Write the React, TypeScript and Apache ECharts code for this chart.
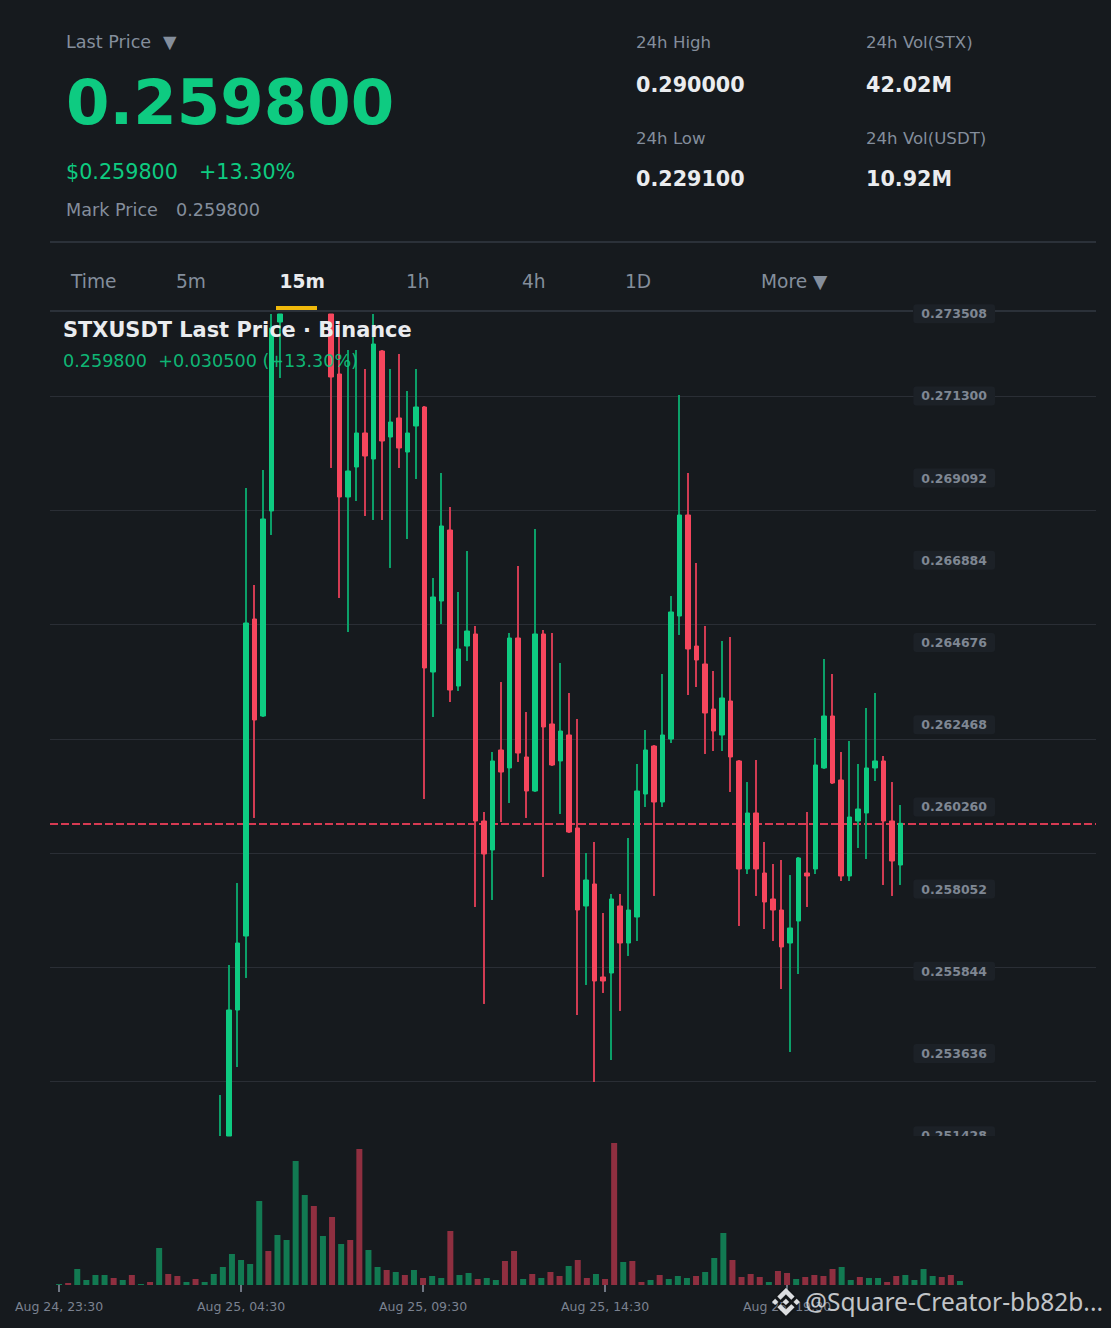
import React, { useEffect, useRef } from "react";
import * as echarts from "echarts";

const opens = [0.2300,0.2305,0.2301,0.2318,0.2324,0.2332,0.2339,0.2333,0.2340,0.2331,0.2335,0.2332,0.2358,0.2349,0.2342,0.2346,0.2341,0.2347,0.2368,0.2412,
0.2490,0.254786,0.256774,0.265289,0.262683,0.26819,0.273266,0.2752,0.2795,0.2770,0.2835,0.2790,0.2815,0.271869,0.268566,0.269371,0.270285,0.269586,0.272487,0.270177,
0.270688,0.269774,0.270473,0.270983,0.263865,0.265772,0.267679,0.263489,0.264563,0.264886,0.259863,0.259084,0.26177,0.261287,0.264778,0.261582,0.260669,0.264886,0.262468,0.261475,
0.262173,0.259675,0.25758,0.258171,0.255673,0.25578,0.25758,0.256586,0.257284,0.260588,0.261877,0.260373,0.262065,0.265369,0.268082,0.264563,0.26408,0.262871,0.262173,0.263086,
0.261475,0.258574,0.260078,0.258466,0.257768,0.257472,0.256586,0.257177,0.258466,0.258574,0.261287,0.262683,0.260964,0.258386,0.259863,0.260078,0.261287,0.261475,0.259863,0.258681];
const closes = [0.2305,0.2301,0.2318,0.2324,0.2332,0.2339,0.2333,0.2340,0.2331,0.2335,0.2332,0.2358,0.2349,0.2342,0.2346,0.2341,0.2347,0.2368,0.2412,0.2490,
0.254786,0.256586,0.265181,0.262576,0.267975,0.273105,0.2752,0.2795,0.2770,0.2835,0.2790,0.2815,0.271789,0.268566,0.269264,0.270285,0.269667,0.272675,0.27007,0.27058,
0.269882,0.270285,0.270983,0.263973,0.26588,0.267787,0.263382,0.264483,0.264966,0.259863,0.258977,0.261475,0.261179,0.264778,0.261689,0.260669,0.264886,0.262388,0.261367,0.26228,
0.259567,0.257472,0.258278,0.255565,0.255565,0.257768,0.256586,0.257472,0.260669,0.26177,0.260373,0.262173,0.265477,0.268082,0.264483,0.264187,0.262764,0.26228,0.263167,0.261582,
0.258574,0.260078,0.258574,0.257687,0.257472,0.256479,0.256989,0.258869,0.258386,0.261367,0.262683,0.260884,0.258386,0.25997,0.260185,0.261287,0.261475,0.259863,0.258789,0.2598];
const lows = [0.2296,0.2298,0.2300,0.2314,0.2320,0.2328,0.2330,0.2331,0.2328,0.2329,0.2330,0.2330,0.2346,0.2340,0.2340,0.2338,0.2339,0.2345,0.2365,0.2405,
0.2470,0.253255,0.255646,0.259944,0.262656,0.267545,0.271762,0.2745,0.2750,0.2760,0.2775,0.2765,0.269345,0.265853,0.264939,0.268458,0.268055,0.267948,0.267948,0.266659,
0.269345,0.267437,0.269049,0.260454,0.262656,0.265154,0.263059,0.263355,0.264161,0.257553,0.254948,0.257741,0.259836,0.260346,0.261448,0.259944,0.260642,0.258359,0.26134,0.260051,
0.259541,0.254652,0.255458,0.252852,0.255243,0.253443,0.25476,0.256237,0.25664,0.260239,0.257849,0.260239,0.261958,0.264859,0.263247,0.263462,0.261663,0.261743,0.261743,0.260642,
0.257043,0.258439,0.257849,0.256962,0.25664,0.25535,0.253658,0.255753,0.257553,0.258439,0.26126,0.260857,0.258251,0.258251,0.259138,0.258842,0.260937,0.258144,0.257849,0.258144];
const highs = [0.2310,0.2308,0.2322,0.2328,0.2336,0.2343,0.2342,0.2344,0.2343,0.2338,0.2338,0.2362,0.2360,0.2352,0.2349,0.2348,0.2350,0.2372,0.2420,0.252503,
0.255995,0.258197,0.268807,0.266202,0.269291,0.2760,0.2780,0.2815,0.2815,0.2865,0.2900,0.2830,0.2825,0.273293,0.272514,0.272514,0.272004,0.2742,0.272514,0.272004,
0.272407,0.271413,0.272004,0.27101,0.26639,0.26921,0.268297,0.266014,0.267115,0.265101,0.260105,0.261716,0.263596,0.264913,0.266712,0.262791,0.267706,0.264993,0.264913,0.264107,
0.263301,0.262603,0.259003,0.259299,0.257392,0.257902,0.257902,0.259406,0.261394,0.262307,0.261904,0.263811,0.265906,0.271305,0.26921,0.266793,0.265101,0.263892,0.264698,0.264805,
0.261501,0.26091,0.261501,0.259299,0.258708,0.258815,0.258412,0.258896,0.260105,0.262092,0.264214,0.263811,0.261716,0.262012,0.261394,0.262898,0.263301,0.261609,0.26091,0.260293];
const volumes = [1,2,16,5,10,10,7,5,10,1,3,37,11,9,3,6,3,11,18,31,
25,21,84,34,50,45,124,90,79,49,68,41,45,136,35,18,15,13,10,15,
7,9,7,54,10,12,6,7,5,24,34,6,11,7,13,9,19,25,7,11,
6,142,23,24,3,5,10,6,9,7,9,13,27,52,25,8,11,8,3,14,
12,6,8,10,9,16,18,5,8,7,7,3,9,10,5,16,9,8,10,4];
const axisPriceLabels = [0.273508,0.2713,0.269092,0.266884,0.264676,0.262468,0.26026,0.258052,0.255844,0.253636,0.251428];
const gridPrices = [0.271289,0.268227,0.265165,0.262065,0.259003,0.255941,0.252878];
const lastPrice = 0.2598;
const timeTicks = ["Aug 24, 23:30","Aug 25, 04:30","Aug 25, 09:30","Aug 25, 14:30","Aug 25, 19:30"];

const UP = "#0ecb81", DOWN = "#f6465d", UP_WICK = "#0b9f68", DOWN_WICK = "#d13b52";
const UP_VOL = "#127a52", DOWN_VOL = "#8f2f40";
const BG = "#161a1e", FONT = "DejaVu Sans", GRAY = "#848e9c", WHITE = "#eaecef";
const VIEW_MIN = 0.251402, VIEW_MAX = 0.273481;

const LOGO = "M38.73 53.2l24.59-24.58 24.6 24.6 14.3-14.31L63.32 0 24.43 38.9l14.3 14.3zM0 63.31l14.3-14.31 14.31 14.31-14.31 14.3zM38.73 73.41l24.59 24.59 24.6-24.6 14.31 14.29-38.9 38.91-38.9-38.88v-.03zM98 63.31l14.3-14.31 14.31 14.3-14.31 14.32zM77.83 63.3L63.32 48.78 52.59 59.51l-1.24 1.23-2.54 2.54 14.51 14.5 14.51-14.47z";
echarts.graphic.registerShape("binanceLogo", echarts.graphic.extendPath(LOGO, {}) as any);

function txt(text: string, x: number, y: number, size: number, fill: string, weight: string = "normal", extra: any = {}) {
  return { type: "text", x, y, z: 100, silent: true, style: { text, fill, fontFamily: FONT, fontSize: size, fontWeight: weight, verticalAlign: "middle", ...extra } };
}

// the chart's viewport cuts the candles off at its top and bottom edge
const clampView = (v: number) => Math.min(VIEW_MAX, Math.max(VIEW_MIN, v));
const viewItem = (o: number, c: number, l: number, h: number) =>
  h < VIEW_MIN || l > VIEW_MAX ? ["-", "-", "-", "-"] : [clampView(o), clampView(c), clampView(l), clampView(h)];

export default function App() {
  const ref = useRef<HTMLDivElement>(null);
  useEffect(() => {
    document.body.style.margin = "0";
    document.body.style.background = BG;
    const chart = echarts.init(ref.current!, undefined, { renderer: "svg" });
    const cats = volumes.map((_, i) => (i % 20 === 0 ? timeTicks[i / 20] : ""));
    const ohlc = opens.map((o, i) => viewItem(o, closes[i], lows[i], highs[i]));
    const bodies = opens.map((o, i) => viewItem(o, closes[i], Math.min(o, closes[i]), Math.max(o, closes[i])));
    const priceAxisHidden = { type: "value", min: VIEW_MIN, max: VIEW_MAX, show: false, splitLine: { show: false } };
    const wickStyle = { color: UP_WICK, color0: DOWN_WICK, borderColor: UP_WICK, borderColor0: DOWN_WICK, borderColorDoji: UP_WICK, borderWidth: 1 };
    chart.setOption({
      animation: false,
      backgroundColor: BG,
      textStyle: { fontFamily: FONT },
      grid: [
        { left: 50, width: 1046, top: 313.7, height: 822 },
        { left: 54.25, width: 850, top: 314, height: 822 },
        { left: 54.5, width: 910, top: 1140, height: 145 },
        { left: 55.25, width: 850, top: 314, height: 822 },
        { left: 54.75, width: 850, top: 314, height: 822 },
      ],
      xAxis: [
        { type: "category", gridIndex: 0, data: ["a", "b"], boundaryGap: false, show: false },
        { type: "category", gridIndex: 1, data: cats, show: false },
        {
          type: "category", gridIndex: 2, data: cats,
          axisLine: { show: false },
          axisTick: { show: true, alignWithLabel: true, interval: 19, length: 7, lineStyle: { color: "#6f7683", width: 2 } },
          axisLabel: { show: true, interval: 19, margin: 15, fontSize: 12.5, color: "#7b8290", fontFamily: FONT, hideOverlap: false },
        },
        { type: "category", gridIndex: 3, data: cats, show: false },
        { type: "category", gridIndex: 4, data: cats, show: false },
      ],
      yAxis: [
        {
          type: "value", gridIndex: 0, position: "right", min: 0.251428, max: 0.273508, scale: true,
          axisLine: { show: false },
          axisTick: { show: false, customValues: gridPrices },
          splitLine: { show: true, lineStyle: { color: "#2a2e35", width: 1 } },
          axisLabel: {
            customValues: axisPriceLabels, inside: true, margin: 101, fontSize: 12.5, fontWeight: "bold", fontFamily: FONT,
            color: "#7f8793", backgroundColor: "#1c2127", padding: [3, 8, 3, 8], borderRadius: 3,
            formatter: (v: number) => v.toFixed(6),
          },
        },
        { ...priceAxisHidden, gridIndex: 1 },
        { type: "value", gridIndex: 2, min: 0, max: 145, show: false, splitLine: { show: false } },
        { ...priceAxisHidden, gridIndex: 3 },
        { ...priceAxisHidden, gridIndex: 4 },
      ],
      series: [
        {
          type: "line", xAxisIndex: 0, yAxisIndex: 0, data: [lastPrice, lastPrice], symbol: "none", z: 1,
          lineStyle: { color: "#d63a52", width: 2, type: [8, 3] },
        },
        { type: "candlestick", xAxisIndex: 1, yAxisIndex: 1, data: ohlc, barWidth: 1, z: 3, itemStyle: wickStyle },
        { type: "candlestick", xAxisIndex: 3, yAxisIndex: 3, data: ohlc, barWidth: 1, z: 3, itemStyle: wickStyle },
        {
          type: "candlestick", xAxisIndex: 4, yAxisIndex: 4, data: bodies, barWidth: 5, z: 4,
          itemStyle: { color: UP, color0: DOWN, borderColor: UP, borderColor0: DOWN, borderColorDoji: UP, borderWidth: 1 },
        },
        {
          type: "bar", xAxisIndex: 2, yAxisIndex: 2, barWidth: 6,
          data: volumes.map((v, i) => ({ value: v, itemStyle: { color: closes[i] >= opens[i] ? UP_VOL : DOWN_VOL } })),
        },
      ],
      graphic: [
        { type: "rect", z: 90, silent: true, shape: { x: 905, y: 1136, width: 100, height: 10 }, style: { fill: BG } },
        { type: "line", z: 90, silent: true, shape: { x1: 50, y1: 242, x2: 1096, y2: 242 }, style: { stroke: "#2b3139", lineWidth: 2 } },
        { type: "line", z: 2, silent: true, shape: { x1: 50, y1: 311, x2: 913, y2: 311 }, style: { stroke: "#2b3139", lineWidth: 2 } },
        { type: "line", z: 2, silent: true, shape: { x1: 995, y1: 311, x2: 1096, y2: 311 }, style: { stroke: "#2b3139", lineWidth: 2 } },
        { type: "rect", z: 90, silent: true, shape: { x: 276, y: 306, width: 41, height: 4 }, style: { fill: "#f0b90b" } },
        txt("Last Price", 66, 42, 17.6, GRAY),
        txt("▼", 163, 42, 17.6, GRAY),
        txt("0.259800", 66, 102, 62.5, UP, "bold"),
        txt("$0.259800", 66, 172, 20.7, UP),
        txt("+13.30%", 199, 172, 20.7, UP),
        txt("Mark Price", 66, 210, 17.6, GRAY),
        txt("0.259800", 176, 210, 17.6, GRAY),
        txt("24h High", 636, 42, 16.6, GRAY),
        txt("0.290000", 636, 85, 20.7, WHITE, "bold"),
        txt("24h Low", 636, 138, 16.6, GRAY),
        txt("0.229100", 636, 179, 20.7, WHITE, "bold"),
        txt("24h Vol(STX)", 866, 42, 16.6, GRAY),
        txt("42.02M", 866, 85, 20.7, WHITE, "bold"),
        txt("24h Vol(USDT)", 866, 138, 16.6, GRAY),
        txt("10.92M", 866, 179, 20.7, WHITE, "bold"),
        txt("Time", 71, 281, 18.6, GRAY),
        txt("5m", 176, 281, 18.6, GRAY),
        txt("15m", 279.5, 281, 18.6, WHITE, "bold"),
        txt("1h", 406, 281, 18.6, GRAY),
        txt("4h", 522, 281, 18.6, GRAY),
        txt("1D", 625, 281, 18.6, GRAY),
        txt("More ▼", 761, 281, 18.6, GRAY),
        txt("STXUSDT Last Price · Binance", 63, 330, 20.9, WHITE, "bold"),
        txt("0.259800  +0.030500 (+13.30%)", 63, 361, 17.6, UP, "normal", { opacity: 0.9 }),
        { type: "binanceLogo", z: 110, silent: true, x: 772, y: 1288, scaleX: 0.22, scaleY: 0.22, style: { fill: "#dcdee1", shadowBlur: 4, shadowColor: "rgba(0,0,0,0.6)" } },
        { type: "text", x: 805, y: 1301, z: 110, silent: true, style: { text: "@Square-Creator-bb82b...", fill: "rgba(226,229,232,0.85)", fontFamily: "Noto Sans", fontSize: 24.5, verticalAlign: "middle", shadowBlur: 3, shadowColor: "rgba(0,0,0,0.6)" } },
      ],
    } as any);
    return () => chart.dispose();
  }, []);
  return <div ref={ref} style={{ width: 1111, height: 1328 }} />;
}
